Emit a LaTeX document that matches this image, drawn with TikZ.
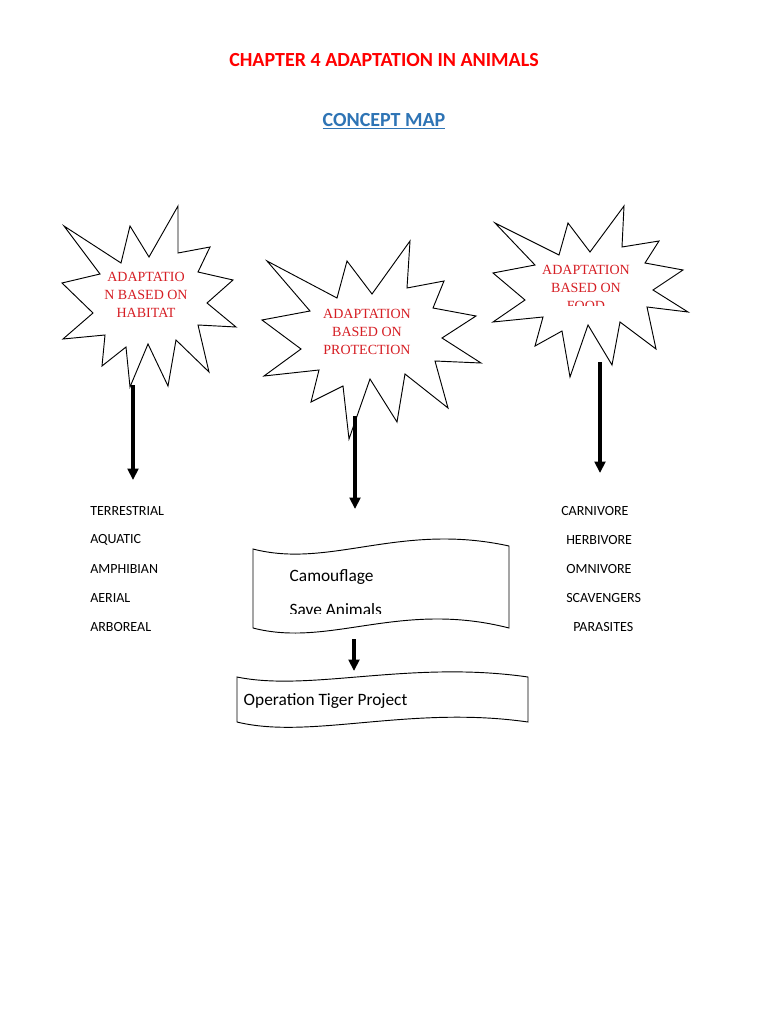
\documentclass[tikz,border=0pt]{standalone}
\usepackage{fontspec}
\setmainfont{Carlito}
\newfontfamily\burstfont{Liberation Serif}
\usepackage{tikz}
\usetikzlibrary{arrows.meta}

\definecolor{titlered}{RGB}{255,0,0}
\definecolor{mapblue}{RGB}{46,116,181}
\definecolor{burstred}{RGB}{214,30,36}

\begin{document}
\begin{tikzpicture}[x=0.75pt,y=-0.75pt,
    burst/.style={draw, line width=0.7pt, fill=white, line join=miter},
    bursttext/.style={text=burstred, align=center, font=\burstfont\fontsize{10.5}{13.5}\selectfont},
    tape/.style={draw, line width=0.7pt, fill=white},
    tapetext/.style={anchor=west, font=\fontsize{13}{15}\selectfont},
    item/.style={anchor=west, inner sep=0pt, font=\fontsize{10.5}{12}\selectfont},
    arrow/.style={line width=2.8pt, -{Triangle[width=8pt,length=8.5pt]}}]
  \useasboundingbox[fill=white] (0,0) rectangle (768,1024);

  % headings
  \node[text=titlered, font=\bfseries\fontsize{15}{18}\selectfont] (chapter) at (384,60) {CHAPTER 4 ADAPTATION IN ANIMALS};
  \node[text=mapblue, font=\bfseries\fontsize{15}{18}\selectfont] (map) at (384,121) {\underline{CONCEPT MAP}};

  % habitat burst
  \draw[burst] (64,226) -- (121,263) -- (130,226) -- (149,257) -- (178,206) -- (178,253)
    -- (210,247) -- (198,272) -- (233,280) -- (207,303) -- (236,327) -- (198,325)
    -- (209,372) -- (176,340) -- (168,386) -- (148,344) -- (130,387) -- (126,347)
    -- (102,366) -- (105,335) -- (63,339) -- (93,313) -- (62,283) -- (100,274) -- cycle;
  \node[bursttext] (habitat) at (146,295) {ADAPTATIO\\N BASED ON\\HABITAT};

  % protection burst
  \draw[burst] (267,261) -- (337,298) -- (347,261) -- (372,294) -- (410,241) -- (407,288)
    -- (444,281) -- (433,308) -- (476,316) -- (442,338) -- (481,363) -- (435,361)
    -- (448,408) -- (405,374) -- (397,422) -- (370,379) -- (349,439) -- (343,386)
    -- (311,402) -- (319,370) -- (264,376) -- (301,349) -- (262,320) -- (310,311) -- cycle;
  \node[bursttext] (protection) at (367,332) {ADAPTATION\\BASED ON\\PROTECTION};

  % food burst
  \draw[burst] (495,223) -- (559,255) -- (568,223) -- (590,252) -- (624,206) -- (622,247)
    -- (659,241) -- (645,263) -- (683,270) -- (653,290) -- (688,312) -- (647,307)
    -- (656,349) -- (620,322) -- (612,365) -- (588,325) -- (570,377) -- (562,331)
    -- (535,346) -- (543,317) -- (493,322) -- (525,300) -- (493,273) -- (535,265) -- cycle;
  \begin{scope}
    \clip (520,250) rectangle (660,305);
    \node[bursttext] (food) at (586,288) {ADAPTATION\\BASED ON\\FOOD};
  \end{scope}

  % arrows out of the bursts
  \coordinate (habitatfoot) at (133,385);
  \coordinate (habitatend) at (133,480);
  \coordinate (protectionfoot) at (355,416);
  \coordinate (protectionend) at (355,509);
  \coordinate (foodfoot) at (600,362);
  \coordinate (foodend) at (600,473);
  \draw[arrow] (habitatfoot) -- (habitatend);
  \draw[arrow] (protectionfoot) -- (protectionend);
  \draw[arrow] (foodfoot) -- (foodend);

  % habitat list
  \node[item] (terrestrial) at (90,511) {TERRESTRIAL};
  \node[item] (aquatic) at (90,540) {AQUATIC};
  \node[item] (amphibian) at (90,569) {AMPHIBIAN};
  \node[item] (aerial) at (90,598) {AERIAL};
  \node[item] (arboreal) at (90,627) {ARBOREAL};

  % food list
  \node[item] (carnivore) at (561,511) {CARNIVORE};
  \node[item] (herbivore) at (566,540) {HERBIVORE};
  \node[item] (omnivore) at (566,569) {OMNIVORE};
  \node[item] (scavengers) at (566,598) {SCAVENGERS};
  \node[item] (parasites) at (573,627) {PARASITES};

  % protection boxes
  \draw[tape] (253,549) .. controls (330,569) and (400,522) .. (509,546) -- (509,628)
    .. controls (400,600) and (330,648) .. (253,628) -- cycle;
  \node[tapetext] (camouflage) at (285,577) {Camouflage};
  \begin{scope}
    \clip (270,590) rectangle (480,613);
    \node[tapetext] (save) at (285,610) {Save Animals};
  \end{scope}

  \coordinate (savefoot) at (354,639);
  \coordinate (tigerend) at (354,671);
  \draw[arrow] (savefoot) -- (tigerend);

  \draw[tape] (237,677) .. controls (310,692) and (410,660) .. (528,677) -- (528,722)
    .. controls (410,705) and (310,740) .. (237,722) -- cycle;
  \node[tapetext] (tiger) at (239,701) {Operation Tiger Project};
\end{tikzpicture}
\end{document}
